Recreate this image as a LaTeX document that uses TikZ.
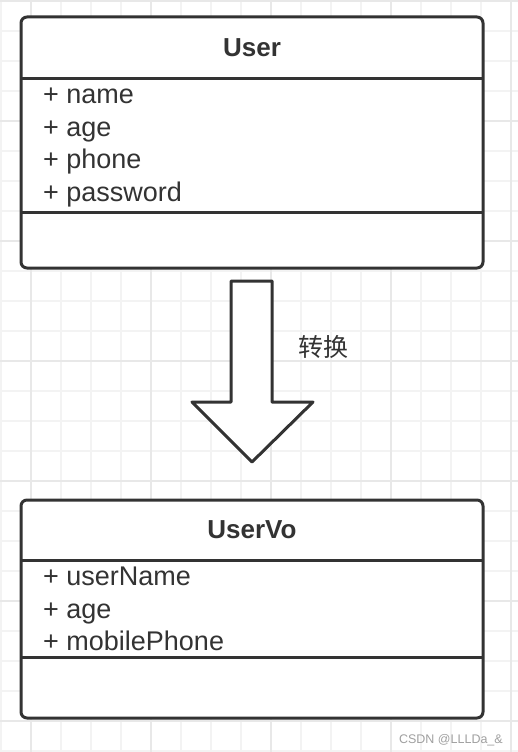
\documentclass[tikz,border=0pt]{standalone}
\usepackage{fontspec}
\setmainfont{Liberation Sans}
\newfontfamily\cjk{Noto Sans CJK SC}
\usetikzlibrary{positioning}
\definecolor{ink}{HTML}{333333}
\definecolor{gridminor}{HTML}{F3F3F3}
\definecolor{gridmajor}{HTML}{E8E8E8}

\begin{document}
\begin{tikzpicture}[x=1pt, y=-1pt,
    outline/.style={rectangle, draw=ink, fill=white, line width=3pt, rounded corners=6pt, minimum width=462pt, inner sep=0pt, outer sep=0pt},
    part/.style={rectangle, minimum width=462pt, inner sep=0pt, outer sep=0pt},
    classname/.style={part, font=\fontsize{26}{30}\selectfont\bfseries, text=ink},
    attr/.style={anchor=base west, inner sep=0pt, font=\fontsize{27}{30}\selectfont, text=ink},
    sep/.style={draw=ink, line width=3pt},
    blockarrow/.style={draw=ink, fill=white, line width=3pt, line join=round},
    minorline/.style={draw=gridminor, line width=1.5pt},
    majorline/.style={draw=gridmajor, line width=2pt}
]
    \useasboundingbox (0,0) rectangle (518,752);
    % grid background
    \foreach \g in {1,31,...,511} \draw[minorline] (\g,0) -- (\g,752);
    \foreach \g in {1,31,...,751} \draw[minorline] (0,\g) -- (518,\g);
    \foreach \g in {31,151,...,511} \draw[majorline] (\g,0) -- (\g,752);
    \foreach \g in {1,121,...,721} \draw[majorline] (0,\g) -- (518,\g);

    % User
    \node[outline, minimum height=251pt] (user) at (252,142.5) {};
    \node[classname, minimum height=61pt, anchor=north] (un) at (user.north) {User};
    \node[part, minimum height=134pt, anchor=north] (ua) at (un.south) {};
    \node[part, minimum height=56pt, anchor=north] (um) at (ua.south) {};
    \draw[sep] (ua.north west) -- (ua.north east);
    \draw[sep] (ua.south west) -- (ua.south east);
    \node[attr] (ua1) at (43,103) {+ name};
    \node[attr] (ua2) at (43,136) {+ age};
    \node[attr] (ua3) at (43,168) {+ phone};
    \node[attr] (ua4) at (43,201) {+ password};

    % conversion arrow
    \draw[blockarrow] (231,281) -- (272,281) -- (272,402) -- (313,402)
        -- (252,462) -- (192,402) -- (231,402) -- cycle;
    \node[font=\cjk\fontsize{25}{28}\selectfont, text=ink] (convlabel) at (323,347) {转换};

    % UserVo
    \node[outline, minimum height=218pt] (uservo) at (252,609) {};
    \node[classname, minimum height=60pt, anchor=north] (vn) at (uservo.north) {UserVo};
    \node[part, minimum height=97pt, anchor=north] (va) at (vn.south) {};
    \node[part, minimum height=61pt, anchor=north] (vm) at (va.south) {};
    \draw[sep] (va.north west) -- (va.north east);
    \draw[sep] (va.south west) -- (va.south east);
    \node[attr] (va1) at (43,585) {+ userName};
    \node[attr] (va2) at (43,618) {+ age};
    \node[attr] (va3) at (43,650) {+ mobilePhone};

    % watermark
    \node[anchor=base east, inner sep=0pt, font=\fontsize{12.5}{14}\selectfont, text=gray!75] (mark) at (503,743) {CSDN @LLLDa\_\&};
\end{tikzpicture}
\end{document}
